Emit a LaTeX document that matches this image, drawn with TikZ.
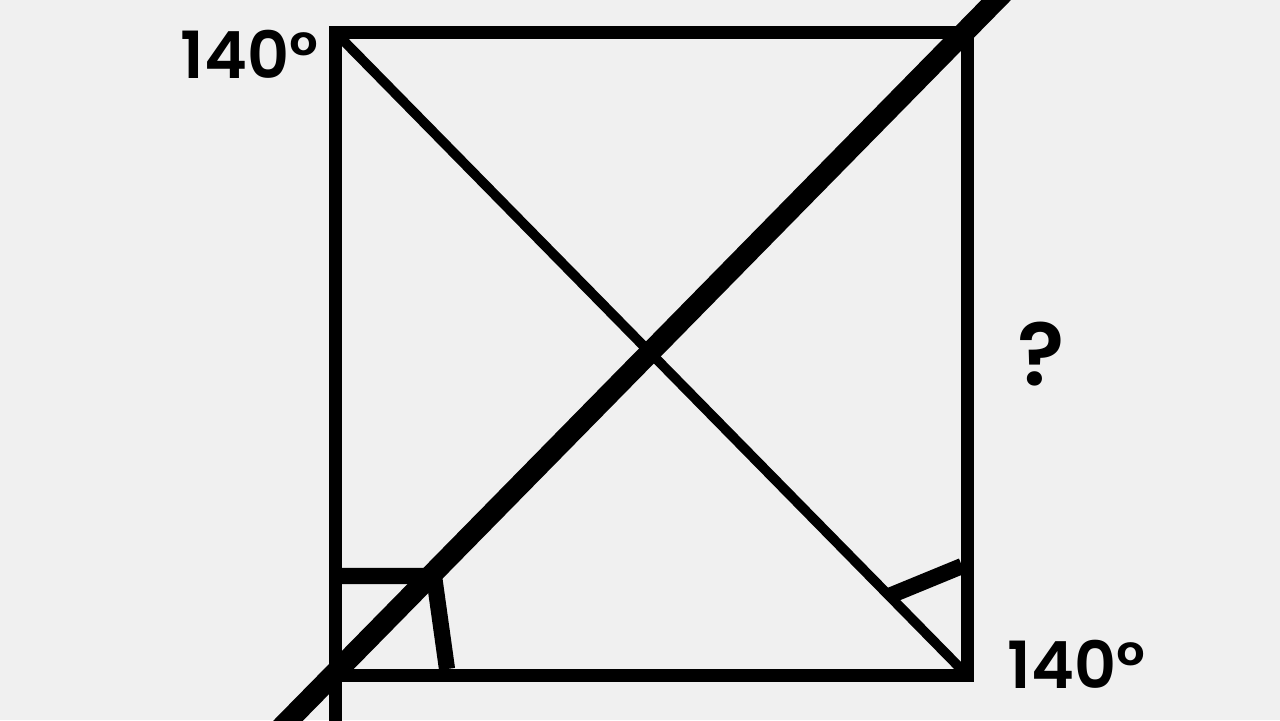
\documentclass[tikz,border=0pt]{standalone}
\usepackage{fontspec}
\IfFontExistsTF{Poppins SemiBold}
  {\setmainfont{Poppins}[BoldFont={Poppins SemiBold}]}
  {\setmainfont{Poppins}}
\usetikzlibrary{calc}
\definecolor{paper}{HTML}{F0F0F0}
\tikzset{
  edge/.style={line width=3.7pt},
  diag/.style={line width=2.8pt},
  cross/.style={line width=6pt},
  tick/.style={line width=4.6pt},
  deg/.style={inner sep=0pt, font=\fontsize{18.5}{22}\selectfont\bfseries}
}

\begin{document}
\begin{tikzpicture}[x=0.01cm, y=-0.01cm]
  \fill[paper] (0,0) rectangle (1280,720);
  \useasboundingbox (0,0) rectangle (1280,720);

  % square
  \coordinate (A) at (335,32);
  \coordinate (B) at (967,32);
  \coordinate (C) at (967,675);
  \coordinate (D) at (335,675);
  \coordinate (Dlow) at (335,730);
  \draw[edge] (Dlow) -- (A) -- (B) -- (C) -- (D);

  % diagonal
  \draw[diag] (A) -- (C);

  % long line through the corners
  \coordinate (lo) at (276,733);
  \coordinate (hi) at (1004,-8);
  \draw[cross] (lo) -- (hi);

  % angle marks
  \coordinate (m1) at (337,576);
  \coordinate (m2) at (434,576);
  \coordinate (m3) at (447,669);
  \draw[tick] (m1) -- (m2) -- (m3);
  \coordinate (n1) at (889,596);
  \coordinate (n2) at (962,566);
  \draw[tick] (n1) -- (n2);

  % labels
  \node[deg, anchor=base east] (lblA) at (319,78) {140°};
  \node[deg, anchor=base west] (lblC) at (1007,688) {140°};
  \node[deg, anchor=base, font=\fontsize{25}{30}\selectfont\bfseries] (lblQ) at (1041,385) {?};
\end{tikzpicture}
\end{document}
